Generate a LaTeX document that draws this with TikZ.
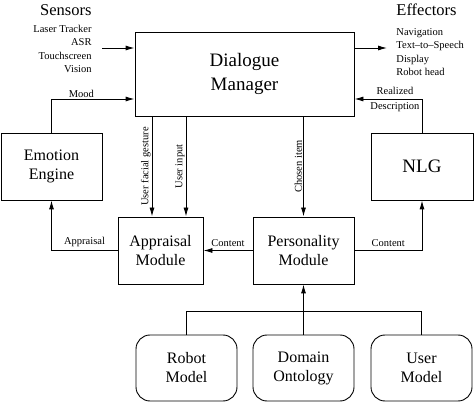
\documentclass[tikz,border=0pt]{standalone}
\usepackage{fontspec}
\setmainfont{Liberation Serif}
\usetikzlibrary{positioning, arrows.meta}

\begin{document}
\begin{tikzpicture}[x=1pt, y=-1pt, line width=0.9pt, >={Latex[length=9pt,width=5pt]}]
        \tikzstyle{box} = [rectangle, draw=black, fill=white, align=center, inner sep=0pt, font=\fontsize{16}{19}\selectfont]
        \tikzstyle{rbox} = [box, rounded corners=14pt]
        \tikzstyle{arrow} = [->]
        \tikzstyle{lbl} = [inner sep=1pt, align=center, font=\fontsize{10.5}{13.3}\selectfont]
        \tikzstyle{head} = [inner sep=0pt, font=\fontsize{16.5}{19}\selectfont]
        \useasboundingbox (0,0) rectangle (474,403);

        % main boxes
        \node (dm) [box, minimum width=219pt, minimum height=84pt, font=\fontsize{19}{24}\selectfont] at (244.5,74) {Dialogue\\Manager};
        \node (emo) [box, minimum width=101pt, minimum height=67pt] at (51.5,166.5) {Emotion\\Engine};
        \node (nlg) [box, minimum width=102pt, minimum height=67pt, font=\fontsize{19}{24}\selectfont] at (422,166.5) {NLG};
        \node (app) [box, minimum width=85pt, minimum height=67pt] at (160.5,250.5) {Appraisal\\Module};
        \node (pers) [box, minimum width=101pt, minimum height=67pt] at (303.5,250.5) {Personality\\Module};

        % knowledge sources
        \node (robot) [rbox, minimum width=101pt, minimum height=66pt] at (186.5,368) {Robot\\Model};
        \node (onto) [rbox, minimum width=101pt, minimum height=66pt] at (303.5,368) {Domain\\Ontology};
        \node (user) [rbox, minimum width=101pt, minimum height=66pt] at (421.5,368) {User\\Model};

        % sensors and effectors
        \node (sens) [head, anchor=base east] at (92,16) {Sensors};
        \node (senslist) [lbl, align=right, anchor=east, inner sep=0pt] at (92,49) {Laser Tracker\\ASR\\Touchscreen\\Vision};
        \node (eff) [head, anchor=base west] at (396,16) {Effectors};
        \node (efflist) [lbl, align=left, anchor=west, inner sep=0pt] at (396,52) {Navigation\\Text--to--Speech\\Display\\Robot head};
        \coordinate (sin) at (102,48);
        \coordinate (eout) at (387,48);
        \draw [arrow] (sin) -- (sin -| dm.west);
        \draw [arrow] (eout -| dm.east) -- (eout);

        % feedback into the dialogue manager
        \draw [arrow] (emo.north) |- node[lbl, above, pos=0.68]{Mood} ([yshift=-25pt]dm.west);
        \draw [arrow] (nlg.north) |- node[lbl, pos=0.7, font=\fontsize{10.5}{15}\selectfont]{Realized\\Description} ([yshift=-25pt]dm.east);

        % dialogue manager outputs
        \path (app.north) ++(-8.5,0) coordinate (ufg);
        \path (app.north) ++(25.5,0) coordinate (uin);
        \draw [arrow] (ufg |- dm.south) -- node[lbl, midway, rotate=90, anchor=south]{User facial gesture} (ufg);
        \draw [arrow] (uin |- dm.south) -- node[lbl, midway, rotate=90, anchor=south]{User input} (uin);
        \draw [arrow] (pers.north |- dm.south) -- node[lbl, midway, rotate=90, anchor=south]{Chosen item} (pers.north);

        % module links
        \draw [arrow] (app.west) -| node[lbl, above, pos=0.25, yshift=2pt]{Appraisal} (emo.south);
        \draw [arrow] (pers.west) -- node[lbl, above, yshift=2pt]{Content} (app.east);
        \draw [arrow] (pers.east) -| node[lbl, above, pos=0.25, yshift=2pt]{Content} (nlg.south);

        % models into personality
        \draw (robot.north) -- ++(0,-23) -| (user.north);
        \draw [arrow] (onto.north) -- (pers.south);
\end{tikzpicture}
\end{document}
